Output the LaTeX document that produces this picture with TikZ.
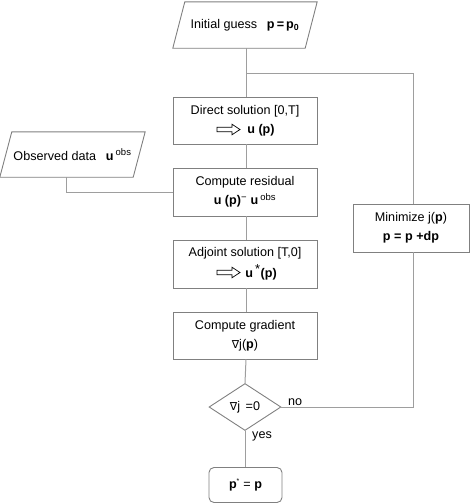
\documentclass[tikz,border=0pt]{standalone}
\usepackage{fontspec}
\setmainfont{Liberation Sans}
\newfontfamily\djv{DejaVu Sans}
\usetikzlibrary{shapes.geometric}
\definecolor{boxline}{rgb}{0.5,0.5,0.5}
\definecolor{conn}{rgb}{0.62,0.62,0.62}
\newcommand{\nab}{{\djv\fontsize{11}{12}\selectfont ∇}}
\newcommand{\supsm}[1]{\textsuperscript{\fontsize{9.5}{10}\selectfont #1}}
\begin{document}
\begin{tikzpicture}[x=1pt,y=-1pt,
  every node/.style={font=\fontsize{12.6}{15}\selectfont, inner sep=0pt, align=center},
  procbox/.style={draw=boxline, line width=0.9pt, minimum width=144pt, minimum height=47pt},
  slantbox/.style={minimum height=46pt},
  connline/.style={draw=conn, line width=1pt},
  lbl/.style={font=\fontsize{12.6}{15}\selectfont},
  harrow/.pic={\draw[line width=0.7pt, black] (0,-2.3) -- (15,-2.3) -- (15,-5.3) -- (23,0) -- (15,5.3) -- (15,2.3) -- (0,2.3) -- cycle;}]
\useasboundingbox (0,0) rectangle (474,504);

% parallelogram nodes (shape drawn from anchors)
\node[slantbox, minimum width=132pt] (init) at (245,25) {Initial guess \enspace\textbf{p\,=\,p\textsubscript{0}}};
\draw[draw=boxline, line width=0.9pt] ([xshift=6pt]init.north west) -- ([xshift=6pt]init.north east) -- ([xshift=-6pt]init.south east) -- ([xshift=-6pt]init.south west) -- cycle;

\node[slantbox, minimum width=133pt, minimum height=45pt] (obs) at (72.5,154.5) {Observed data \enspace\textbf{u}\,\supsm{obs}};
\draw[draw=boxline, line width=0.9pt] ([xshift=6pt]obs.north west) -- ([xshift=6pt]obs.north east) -- ([xshift=-6pt]obs.south east) -- ([xshift=-6pt]obs.south west) -- cycle;

\node[procbox] (direct) at (245,120.5) {Direct solution [0,T]\\[4pt] \hspace*{32pt}\textbf{u (p)}};
\node[procbox, minimum height=48pt] (resid) at (245,192) {Compute residual\\[4pt] \textbf{u (p)}\supsm{−} \textbf{u}\,\supsm{obs}};
\node[procbox, minimum height=48pt] (adj) at (245,264) {Adjoint solution [T,0]\\[4pt] \hspace*{32pt}\textbf{u}\,\textsuperscript{\fontsize{13}{14}\selectfont *}\textbf{(p)}};
\node[procbox] (grad) at (245,335.5) {Compute gradient\\[4pt] \nab j(\textbf{p})};
\node[diamond, draw=boxline, line width=0.9pt, minimum width=72pt, minimum height=47pt] (test) at (245,407) {\nab j \,=0};
\node[draw=boxline, line width=0.9pt, rounded corners=5pt, minimum width=73pt, minimum height=35pt] (final) at (245.5,485) {\textbf{p}\textsuperscript{\fontsize{7}{8}\selectfont *} = \textbf{p}};
\node[draw=boxline, line width=0.9pt, minimum width=116pt, minimum height=48pt] (mini) at (411,228) {Minimize j(\textbf{p})\\[4pt] \textbf{p = p +dp}};

\pic at (217,129.5) {harrow};
\pic at (217,272.5) {harrow};

\coordinate (topjoin) at (246,73);
\coordinate (rtop) at (413,73);
\coordinate (rbot) at (413,407);
\coordinate (obsdown) at (66,192);

% connectors
\draw[connline] ([xshift=1pt]init.south) -- ([xshift=1pt]direct.north);
\draw[connline] ([xshift=1pt]direct.south) -- ([xshift=1pt]resid.north);
\draw[connline] ([xshift=1pt]resid.south) -- ([xshift=1pt]adj.north);
\draw[connline] ([xshift=1pt]adj.south) -- ([xshift=1pt]grad.north);
\draw[connline] ([xshift=1pt]grad.south) -- (test.north);
\draw[connline] (test.south) -- (final.north -| test.south);
\draw[connline] (test.east) -- (rbot) -- (mini.south -| rbot);
\draw[connline] (mini.north -| rtop) -- (rtop) -- (topjoin);
\draw[connline] (obs.south -| obsdown) -- (obsdown) -- (resid.west |- obsdown);

\node[lbl, anchor=south west] (nolbl) at (288,406) {no};
\node[lbl, anchor=north west] (yeslbl) at (252,432) {yes};
\end{tikzpicture}
\end{document}
